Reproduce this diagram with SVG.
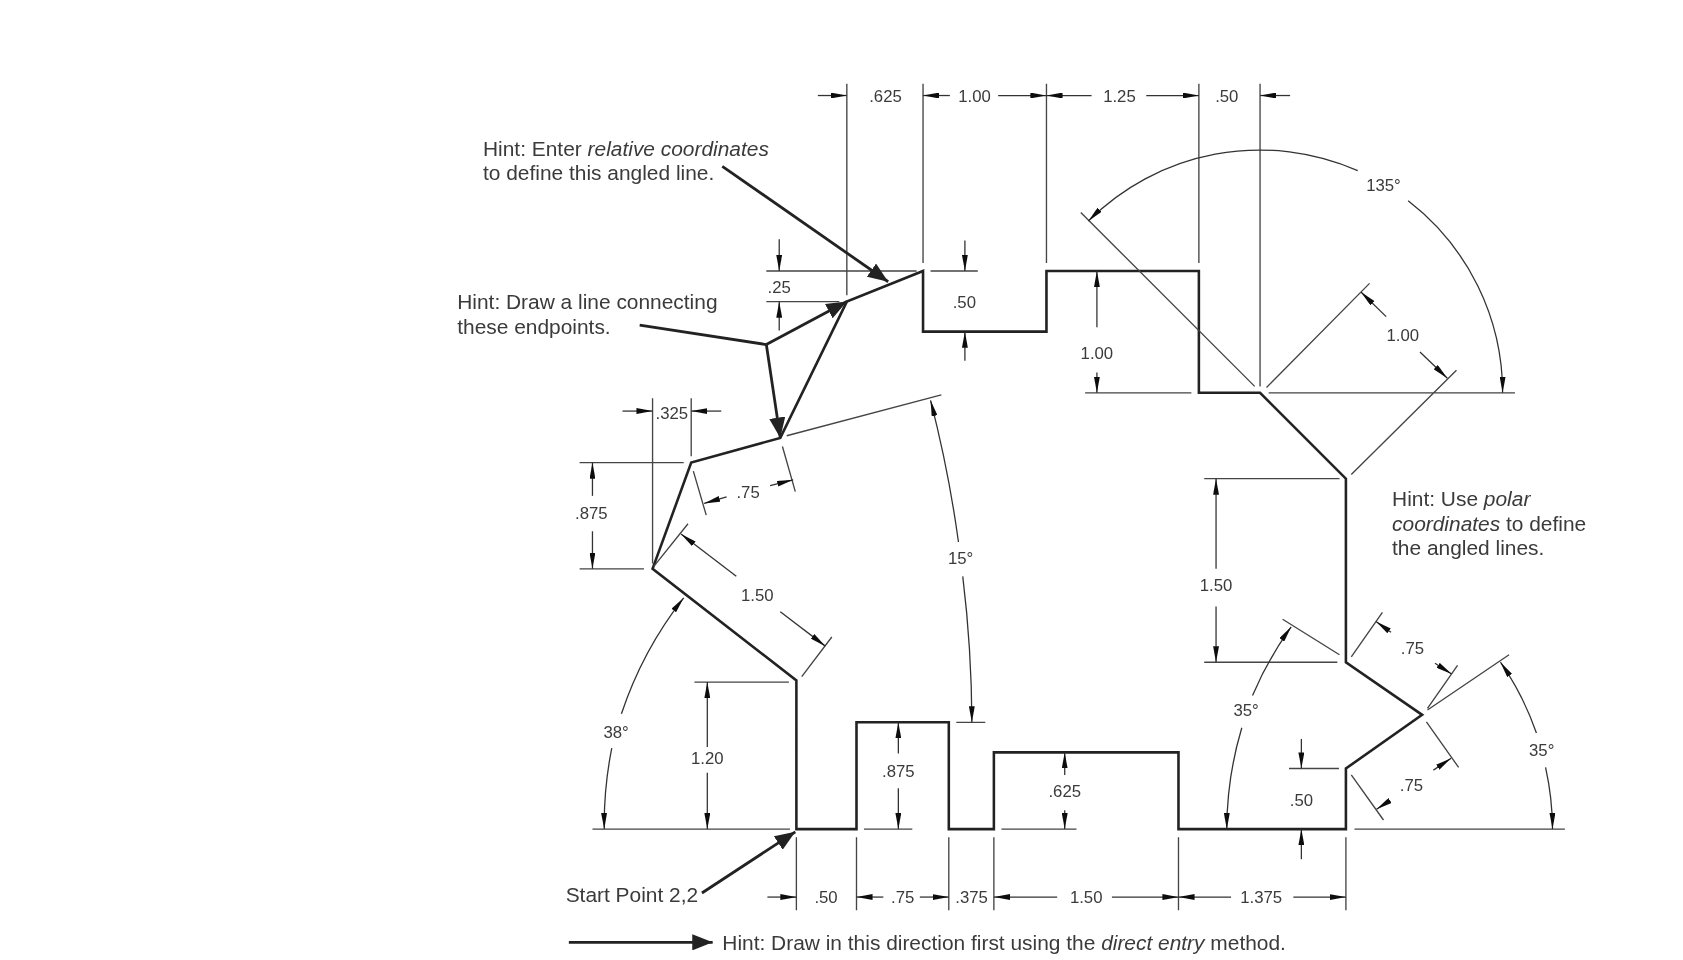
<svg xmlns="http://www.w3.org/2000/svg" width="1683" height="960" viewBox="0 0 1683 960">
<style>
text{font-family:"Liberation Sans",Arial,sans-serif;fill:#3a3a3a}
.d{font-size:15.6px;text-anchor:middle}
.h{font-size:19.5px}
.i{font-style:italic}
.t{fill:none;stroke:#444;stroke-width:1.25}
.a{fill:none;stroke:#333;stroke-width:1.2;marker-end:url(#sm)}
.k{fill:none;stroke:#222;stroke-width:2.4;stroke-linejoin:miter}
.l{fill:none;stroke:#222;stroke-width:2.6}
.m{marker-end:url(#lg)}
</style>
<defs>
<marker id="sm" viewBox="0 0 15 6" refX="15" refY="3" markerWidth="15" markerHeight="5.500" markerUnits="userSpaceOnUse" orient="auto" preserveAspectRatio="none"><path d="M0 0L15 3L0 6Z" fill="#111"/></marker>
<marker id="lg" viewBox="0 0 19 15" refX="19" refY="7.500" markerWidth="19" markerHeight="15" markerUnits="userSpaceOnUse" orient="auto"><path d="M0 0L19 7.500L0 15Z" fill="#222"/></marker>
<filter id="b" x="0" y="0" width="100%" height="100%"><feGaussianBlur stdDeviation="0.55"/></filter>
</defs>
<rect width="1683" height="960" fill="#fff"/>
<g transform="scale(1.0733)" filter="url(#b)">
<g id="profile"><path class="k" d="M742 772.500H798V673H884V772.500H926V701H1098V772.500H1254V716L1325 666L1254 617V446L1174 366H1117V252.500H975V309H860V252.500L789 281L727 408L644 431L608 530L742 634Z"/></g>
<g id="extensions">
<path class="t" d="M789 78V275M860 78V245M975 78V245M1117 78V245M1174 78V360M714 252.500H854M867 252.500H911M714 281H782M608 371V525M644 371V425M540 431H637M540 530H600M646 439L658 480M729 416L741 458M733 406L877 368M609 528L641 488M747 630.500L775 593.500M552 772.500H736M647 635.500H735M805 772.500H850M933 772.500H1003M891 673H918M742 780V848M798 780V848M884 780V848M926 780V848M1098 780V848M1254 780V848M1011 366H1110M1169 360L1007 198M1182 366H1411.500M1180 361L1276 264M1259 442L1357 345M1122 446H1248M1122 617H1246M1248 610L1195 577M1259 612L1288 570.500M1330 660L1358 620M1330 661.500L1406 610M1262 772.500H1458M1329 672.500L1359 715M1259 722L1289 764M1201 716H1247.500"/>
</g>
<g id="dimensions">
<path class="a" d="M762 89H789"/><path class="a" d="M885 89H860"/><path class="a" d="M930 89H975"/><path class="a" d="M1017 89H975"/><path class="a" d="M1068 89H1117"/><path class="a" d="M1202 89H1174"/>
<path class="a" d="M726 223V252.500"/><path class="a" d="M726 308V281"/><path class="a" d="M899 224V252.500"/><path class="a" d="M899 336V309"/>
<path class="a" d="M580 383H608"/><path class="a" d="M672 383H644"/>
<path class="a" d="M552 462V431"/><path class="a" d="M552 495V530"/>
<path class="a" d="M677 463L656 469"/><path class="a" d="M717.500 452.500L739 447"/>
<path class="a" d="M686 537L634.500 497.500"/><path class="a" d="M727 570L769 602"/>
<path class="a" d="M659 696V635.500"/><path class="a" d="M659 720V772.500"/>
<path class="a" d="M837 702V673"/><path class="a" d="M837 734.500V772.500"/>
<path class="a" d="M992 722V701"/><path class="a" d="M992 755V772.500"/>
<path class="a" d="M715 835.800H742"/><path class="a" d="M823 835.800H798"/><path class="a" d="M857 835.800H884"/><path class="a" d="M985 835.800H926"/><path class="a" d="M1036 835.800H1098"/><path class="a" d="M1147 835.800H1098"/><path class="a" d="M1205 835.800H1254"/>
<path class="a" d="M1022 305V252.500"/><path class="a" d="M1022 347V366"/>
<path class="a" d="M1291.500 295L1268 272"/><path class="a" d="M1323 328L1348.500 352.500"/>
<path class="a" d="M1133 530V446"/><path class="a" d="M1133 565V617"/>
<path class="a" d="M1296 589L1282 579"/><path class="a" d="M1337 618L1352.500 628"/>
<path class="a" d="M1335.500 717.500L1352 706.500"/><path class="a" d="M1295 746L1282.500 754"/>
<path class="a" d="M1212.500 688.500V716"/><path class="a" d="M1212.500 800.500V772.500"/>
<path class="a" d="M1265 159A226 226 0 0 0 1014 206"/><path class="a" d="M1312 187A226 226 0 0 1 1400 366"/>
<path class="a" d="M893 505A1150 1150 0 0 0 867 373"/><path class="a" d="M897 537A1150 1150 0 0 1 905.500 673"/>
<path class="a" d="M579 665A358 358 0 0 1 637 557"/><path class="a" d="M570 697A358 358 0 0 0 563 772.500"/>
<path class="a" d="M1167 648A332 332 0 0 1 1203 584"/><path class="a" d="M1157 678A332 332 0 0 0 1143 772.500"/>
<path class="a" d="M1431.500 683A272 272 0 0 0 1398 617"/><path class="a" d="M1440 715A272 272 0 0 1 1446.500 772.500"/>
</g>
<g id="leaders">
<path class="l m" d="M673 155L827.500 262.500"/>
<path class="l" d="M596 303L714 321"/><path class="l m" d="M714 321L789 281"/><path class="l m" d="M714 321L727 408"/>
<path class="l m" d="M654 832L741 775"/>
<path class="l m" d="M530 878H664"/>
</g>
<g id="dimension-labels">
<text class="d" x="825" y="95">.625</text><text class="d" x="908" y="95">1.00</text><text class="d" x="1043" y="95">1.25</text><text class="d" x="1143" y="95">.50</text>
<text class="d" x="726" y="272.700">.25</text><text class="d" x="898.500" y="287.300">.50</text><text class="d" x="626" y="390">.325</text><text class="d" x="551" y="484">.875</text>
<text class="d" x="697" y="463.700">.75</text><text class="d" x="705.500" y="559.500">1.50</text><text class="d" x="574" y="688">38°</text><text class="d" x="659" y="712">1.20</text>
<text class="d" x="837" y="724">.875</text><text class="d" x="992" y="743">.625</text><text class="d" x="895" y="525.500">15°</text>
<text class="d" x="769.600" y="841.700">.50</text><text class="d" x="841" y="841.700">.75</text><text class="d" x="905.300" y="841.700">.375</text><text class="d" x="1012" y="841.700">1.50</text><text class="d" x="1175" y="841.700">1.375</text>
<text class="d" x="1022" y="334.500">1.00</text><text class="d" x="1289" y="178">135°</text><text class="d" x="1307" y="317.700">1.00</text><text class="d" x="1133" y="551">1.50</text>
<text class="d" x="1161" y="667.500">35°</text><text class="d" x="1316" y="609.700">.75</text><text class="d" x="1436.400" y="704.400">35°</text><text class="d" x="1315" y="737.300">.75</text><text class="d" x="1212.500" y="750.600">.50</text>
</g>
<g id="hints">
<text class="h" x="450" y="145">Hint: Enter <tspan class="i">relative coordinates</tspan></text>
<text class="h" x="450" y="168">to define this angled line.</text>
<text class="h" x="426" y="288">Hint: Draw a line connecting</text>
<text class="h" x="426" y="311">these endpoints.</text>
<text class="h" x="1297" y="471.500">Hint: Use <tspan class="i">polar</tspan></text>
<text class="h" x="1297" y="494.400"><tspan class="i">coordinates</tspan> to define</text>
<text class="h" x="1297" y="517">the angled lines.</text>
<text class="h" x="527" y="840">Start Point 2,2</text>
<text class="h" x="673" y="885.500">Hint: Draw in this direction first using the <tspan class="i">direct entry</tspan> method.</text>
</g>
</g>
</svg>
